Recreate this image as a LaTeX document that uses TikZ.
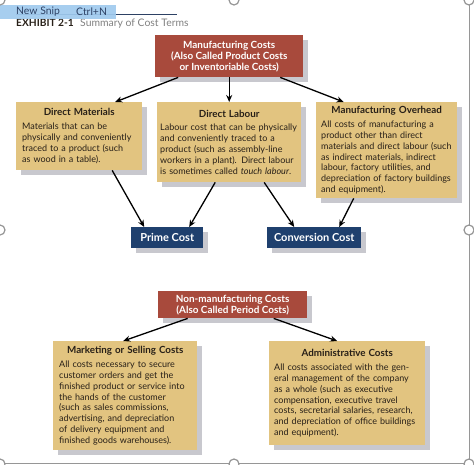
\documentclass[tikz,border=0pt]{standalone}
\usepackage{fontspec}
\setmainfont{Lato}
\usetikzlibrary{arrows.meta,shadows}

\definecolor{mcred}{RGB}{168,74,60}
\definecolor{costtan}{RGB}{226,196,128}
\definecolor{costnavy}{RGB}{31,64,110}
\definecolor{shadowgray}{RGB}{200,200,206}
\definecolor{textdark}{RGB}{40,32,24}
\definecolor{snipblue}{RGB}{160,202,238}
\definecolor{sniptext}{RGB}{45,65,100}
\definecolor{framegray}{RGB}{150,150,150}

\tikzset{
	costshadow/.style={drop shadow={shadow xshift=5pt,shadow yshift=-5pt,fill=shadowgray,opacity=1}},
	redbox/.style={costshadow,fill=mcred,text=white,font=\fontsize{9.9}{11}\selectfont\bfseries,align=center,inner sep=0pt,anchor=north west},
	tanbox/.style={costshadow,fill=costtan,text=textdark,font=\fontsize{9}{10.9}\selectfont,align=left,inner xsep=6pt,inner ysep=3pt,anchor=north west},
	navybox/.style={costshadow,fill=costnavy,text=white,font=\fontsize{11}{12}\selectfont\bfseries,inner sep=0pt,anchor=north west},
	arr/.style={-{Stealth[length=7pt,width=6pt]},line width=1.3pt},
	handle/.style={draw=framegray,line width=1.2pt,fill=white}
}
\newcommand{\boxtitle}[1]{\hbox to\hsize{\hfil\fontsize{9.8}{10.9}\selectfont\bfseries #1\hfil}\\[3pt]}

\begin{document}
\begin{tikzpicture}
	\pgfsetxvec{\pgfpoint{1pt}{0pt}}
	\pgfsetyvec{\pgfpoint{0pt}{-1pt}}
	\useasboundingbox (0,0) rectangle (474,464);

	% heading
	\node[anchor=base west,inner sep=0pt,font=\fontsize{10.2}{12}\selectfont\bfseries,text=textdark] at (16,26) (exhibit) {EXHIBIT 2-1};
	\node[anchor=base west,inner sep=0pt,font=\fontsize{10.4}{12}\selectfont,text=gray] at (80,26) (summary) {Summary of Cost Terms};
	\draw[sniptext,line width=0.8pt] (16,14) -- (177,14);
	\fill[snipblue,opacity=0.92] (0,5) rectangle (116,19);
	\node[anchor=west,inner sep=0pt,font=\fontsize{10.4}{12}\selectfont,text=sniptext] at (16,12) (newsnip) {New Snip};
	\node[anchor=west,inner sep=0pt,font=\fontsize{10.4}{12}\selectfont,text=sniptext] at (76,12) (ctrln) {Ctrl+N};

	% manufacturing costs
	\node[redbox,minimum width=148pt,minimum height=42pt] at (155,35) (mc) {Manufacturing Costs\\(Also Called Product Costs\\or Inventoriable Costs)};
	\node[tanbox,text width=114pt,minimum height=68pt] at (16,102) (dm) {\boxtitle{Direct Materials}Materials that can be\\physically and conveniently\\traced to a product (such\\as wood in a table).};
	\node[tanbox,text width=138pt,inner xsep=3pt,minimum height=80pt] at (157,102) (dl) {\boxtitle{Direct Labour}Labour cost that can be physically\\and conveniently traced to a\\product (such as assembly-line\\workers in a plant). Direct labour\\is sometimes called \textit{touch labour}.};
	\node[tanbox,text width=131pt,inner xsep=5pt,minimum height=96pt] at (316,102) (mo) {\boxtitle{Manufacturing Overhead}All costs of manufacturing a\\product other than direct\\materials and direct labour (such\\as indirect materials, indirect\\labour, factory utilities, and\\depreciation of factory buildings\\and equipment).};
	\node[navybox,minimum width=72pt,minimum height=21pt] at (131,227) (prime) {Prime Cost};
	\node[navybox,minimum width=94pt,minimum height=21pt] at (267,227) (conv) {Conversion Cost};

	% non-manufacturing costs
	\node[redbox,minimum width=149pt,minimum height=27pt] at (158,291) (nmc) {Non-manufacturing Costs\\(Also Called Period Costs)};
	\node[tanbox,text width=132pt,minimum height=109pt] at (53,341) (msc) {\boxtitle{Marketing or Selling Costs}All costs necessary to secure\\customer orders and get the\\finished product or service into\\the hands of the customer\\(such as sales commissions,\\advertising, and depreciation\\of delivery equipment and\\finished goods warehouses).};
	\node[tanbox,text width=146pt,inner xsep=5pt,minimum height=104pt] at (269,341) (adm) {\boxtitle{Administrative Costs}All costs associated with the gen-\\eral management of the company\\as a whole (such as executive\\compensation, executive travel\\costs, secretarial salaries, research,\\and depreciation of office buildings\\and equipment).};

	\path[arr] ([xshift=-51pt]mc.south) edge ([xshift=36pt]dm.north)
	(mc.south) edge (dl.north)
	([xshift=51pt]mc.south) edge ([xshift=-43pt]mo.north)
	([xshift=33pt]dm.south) edge ([xshift=-23pt]prime.north)
	([xshift=-14pt]dl.south) edge ([xshift=22pt]prime.north)
	([xshift=35pt]dl.south) edge ([xshift=-20pt]conv.north)
	([xshift=-33pt]mo.south) edge ([xshift=25pt]conv.north)
	([xshift=-45pt]nmc.south) edge ([xshift=-2pt]msc.north)
	([xshift=41pt]nmc.south) edge ([xshift=-10pt]adm.north);

	% snip frame
	\draw[framegray,line width=0.8pt] (469,0) -- (469,464) (0,463) -- (469,463);
	\foreach \hx/\hy in {0/0,234/0,469/0,0/230,469/230,0/464,234/464,469/464}
	\draw[handle] (\hx,\hy) circle[radius=5pt];
\end{tikzpicture}
\end{document}
